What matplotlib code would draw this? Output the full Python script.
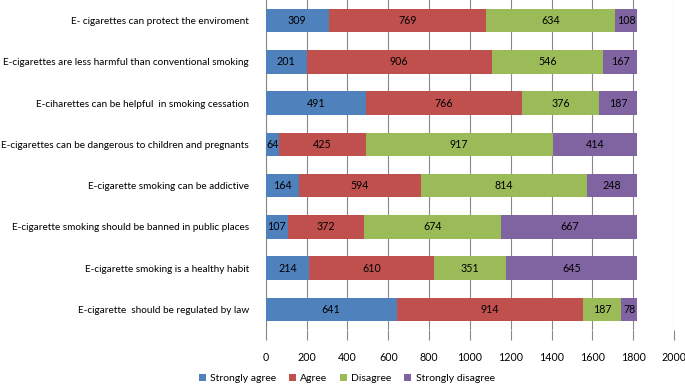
import numpy as np
import matplotlib
matplotlib.use("Agg")
from matplotlib import pyplot as plt

plt.rcParams['font.family'] = ['Lato', 'DejaVu Sans']

categories = [
   "E- cigarettes can protect the enviroment",
   "E-cigarettes are less harmful than conventional smoking",
   "E-ciharettes can be helpful  in smoking cessation",
   "E-cigarettes can be dangerous to children and pregnants",
   "E-cigarette smoking can be addictive",
   "E-cigarette smoking should be banned in public places",
   "E-cigarette smoking is a healthy habit",
   "E-cigarette  should be regulated by law",
]
strongly_agree = [309, 201, 491, 64, 164, 107, 214, 641]
agree = [769, 906, 766, 425, 594, 372, 610, 914]
disagree = [634, 546, 376, 917, 814, 674, 351, 187]
strongly_disagree = [108, 167, 187, 414, 248, 667, 645, 78]

series = [
   ("Strongly agree", strongly_agree, "#4F81BD"),
   ("Agree", agree, "#C0504D"),
   ("Disagree", disagree, "#9BBB59"),
   ("Strongly disagree", strongly_disagree, "#8064A2"),
]

fig = plt.figure(figsize=(6.85, 3.86), dpi=100)
ax = fig.add_axes([0.388, 0.145, 0.596, 0.855])

y = np.arange(len(categories))
left = np.zeros(len(categories))
for name, vals, color in series:
   vals = np.array(vals)
   bars = ax.barh(y, vals, left=left, height=0.57, color=color, label=name, zorder=3)
   for rect, v in zip(bars, vals):
      cx = rect.get_x() + rect.get_width() / 2
      ax.text(cx, rect.get_y() + rect.get_height() / 2, str(v), ha="center", va="center",
              fontsize=7.7, color="black", zorder=4)
   left += vals

ax.set_yticks(y)
ax.set_yticklabels(categories, fontsize=7.2)
ax.set_ylim(len(categories) - 0.5, -0.5)
ax.set_xlim(0, 2000)
ax.set_xticks(range(0, 2001, 200))
ax.tick_params(axis="x", labelsize=7.7, length=7, color="#888888", pad=9)
ax.tick_params(axis="y", length=0, pad=12)
ax.grid(axis="x", color="#888888", linewidth=0.8, zorder=0)

for s in ["top", "right", "bottom"]:
   ax.spines[s].set_visible(False)
ax.spines["left"].set_color("#888888")

handles, labels = ax.get_legend_handles_labels()
fig.legend(handles, labels, loc="center", bbox_to_anchor=(0.506, 0.02), ncol=4,
           frameon=False, fontsize=7.5, handlelength=0.7, handleheight=0.7,
           handletextpad=0.4, columnspacing=1.2, borderaxespad=0)

fig.savefig("out.png", dpi=100)
